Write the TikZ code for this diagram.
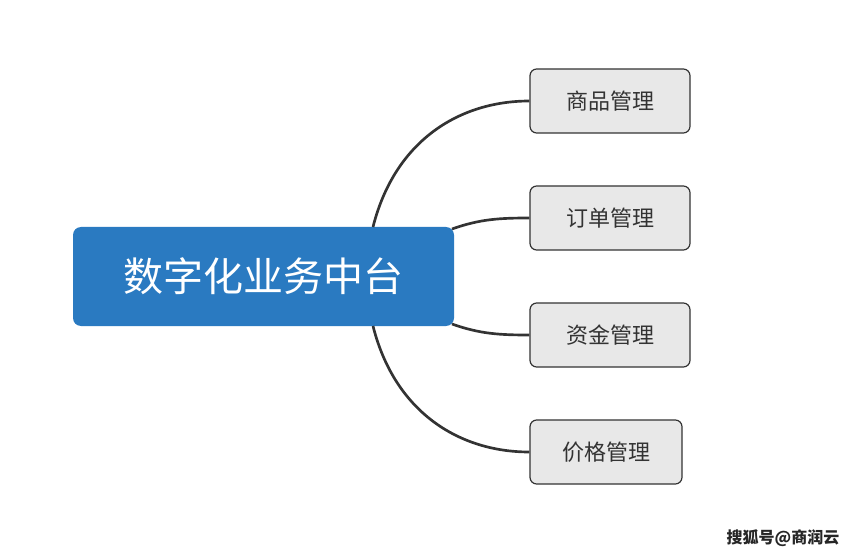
\documentclass[tikz,border=0pt]{standalone}
\usepackage{fontspec}
\newfontfamily\cjk{Noto Sans CJK SC}
\begin{document}
\begin{tikzpicture}[x=0.75pt,y=-0.75pt,
  sub/.style={draw=black!80,line width=0.9pt,fill=black!9,rounded corners=5pt,minimum height=64*0.75pt,font=\cjk\fontsize{16.5}{18}\selectfont,text=black!80},
  conn/.style={draw=black!80,line width=2pt}]
\useasboundingbox (0,0) rectangle (861,556);
\node[fill={rgb,255:red,42;green,122;blue,193},rounded corners=6pt,minimum width=381*0.75pt,minimum height=99*0.75pt,text=white,font=\cjk\fontsize{30}{34}\selectfont] (m) at (263.5,276.5) {数字化业务中台};
\node[sub,minimum width=160*0.75pt] (a) at (610,101) {商品管理};
\node[sub,minimum width=160*0.75pt] (b) at (610,218) {订单管理};
\node[sub,minimum width=160*0.75pt] (c) at (610,335) {资金管理};
\node[sub,minimum width=152*0.75pt] (d) at (606,452) {价格管理};
\coordinate (m1) at (373,227);
\coordinate (m2) at (452,229);
\coordinate (m3) at (452,324);
\coordinate (m4) at (373,326);
\draw[conn] (m1) .. controls (395,140) and (460,101) .. (a.west);
\draw[conn] (m2) .. controls (480,219) and (500,218) .. (b.west);
\draw[conn] (m3) .. controls (480,334) and (500,335) .. (c.west);
\draw[conn] (m4) .. controls (395,413) and (460,452) .. (d.west);
\node[font=\cjk\bfseries\fontsize{12}{14}\selectfont,text=black!85] (w) at (783,538) {搜狐号@商润云};
\end{tikzpicture}
\end{document}
